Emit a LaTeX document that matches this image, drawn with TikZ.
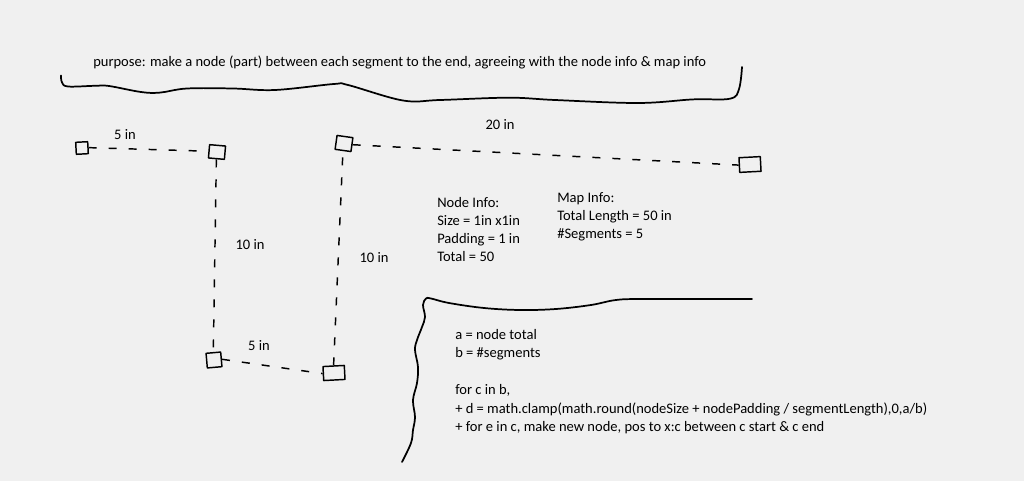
\documentclass[tikz,border=0pt]{standalone}
\usepackage{fontspec}
\setmainfont{Carlito}
\definecolor{bgc}{RGB}{240,240,240}
\begin{document}
\begin{tikzpicture}[x=0.75pt,y=-0.75pt,
  txt/.style={font=\fontsize{10.9pt}{12pt}\selectfont, inner sep=0pt, anchor=base west},
  lbl/.style={font=\fontsize{10.9pt}{12pt}\selectfont, inner sep=0pt},
  sq/.style={draw, line width=1.1pt, inner sep=0pt, line join=round},
  dashline/.style={line width=1.1pt, dash pattern=on 6pt off 9pt},
  pen/.style={line width=1.3pt, line cap=round, line join=round}]
\fill[bgc] (0,0) rectangle (1024,481);
\useasboundingbox (0,0) rectangle (1024,481);

% heading
\node[txt] (purpose) at (93,66.5) {purpose: make a node (part) between each segment to the end, agreeing with the node info \& map info};
\draw[pen] plot[smooth, tension=0.6] coordinates {(61,75.6) (62,82.4) (68,86.5) (95,85.8) (109,86) (141,92) (160,92.6) (187,88.5) (233,88.5) (275,90) (334,84) (348,85) (403,100.5) (440,100) (509,97.7) (555,100) (638,103) (693,99.4) (730,98.7) (739,89) (742,67)};

% segment nodes
\node[sq, minimum width=9pt, minimum height=9pt, rotate=3] (A) at (82,148) {};
\node[sq, minimum width=12pt, minimum height=10pt, rotate=-5] (B) at (217,152) {};
\node[sq, minimum width=12pt, minimum height=10.5pt, rotate=-8] (C) at (344,143.5) {};
\node[sq, minimum width=16pt, minimum height=11pt, rotate=3] (D) at (750,164.5) {};
\node[sq, minimum width=11pt, minimum height=11pt, rotate=5] (E) at (214,360) {};
\node[sq, minimum width=16pt, minimum height=10.5pt, rotate=3] (F) at (334,373) {};

\draw[dashline] (A.east) -- (B.west);
\draw[dashline] (B.south) -- (E.north);
\draw[dashline] (E.east) -- (F.west);
\draw[dashline] (F.north) -- (C.south);
\draw[dashline] (C.east) -- (D.west);

\node[lbl] (l1) at (125,135) {5 in};
\node[lbl] (l2) at (250,245) {10 in};
\node[lbl] (l3) at (259,346) {5 in};
\node[lbl] (l4) at (500,125) {20 in};
\node[lbl] (l5) at (374,258) {10 in};

% node info
\node[txt] (ni1) at (437,207.5) {Node Info:};
\node[txt] (ni2) at (437,225.5) {Size = 1in x1in};
\node[txt] (ni3) at (437,243.5) {Padding = 1 in};
\node[txt] (ni4) at (437,261.5) {Total = 50};

% map info
\node[txt] (mi1) at (557,202.5) {Map Info:};
\node[txt] (mi2) at (557,220.5) {Total Length = 50 in};
\node[txt] (mi3) at (557,238.5) {\#Segments = 5};

% code block
\node[txt] (c1) at (455,339) {a = node total};
\node[txt] (c2) at (455,357) {b = \#segments};
\node[txt] (c3) at (455,394.5) {for c in b,};
\node[txt] (c4) at (455,413) {+ d = math.clamp(math.round(nodeSize + nodePadding / segmentLength),0,a/b)};
\node[txt] (c5) at (455,431) {+ for e in c, make new node, pos to x:c between c start \& c end};
\draw[pen] plot[smooth, tension=0.6] coordinates {(752,299) (645,299) (616,300) (591,305) (556,309) (520,310) (484,308) (449,303) (431,298.5) (426,298.5) (423,305) (425,317) (422,327) (417,340) (415,350) (418,367) (417,383) (413,400) (415,417) (413,430) (411,443) (402,462)};
\end{tikzpicture}
\end{document}
